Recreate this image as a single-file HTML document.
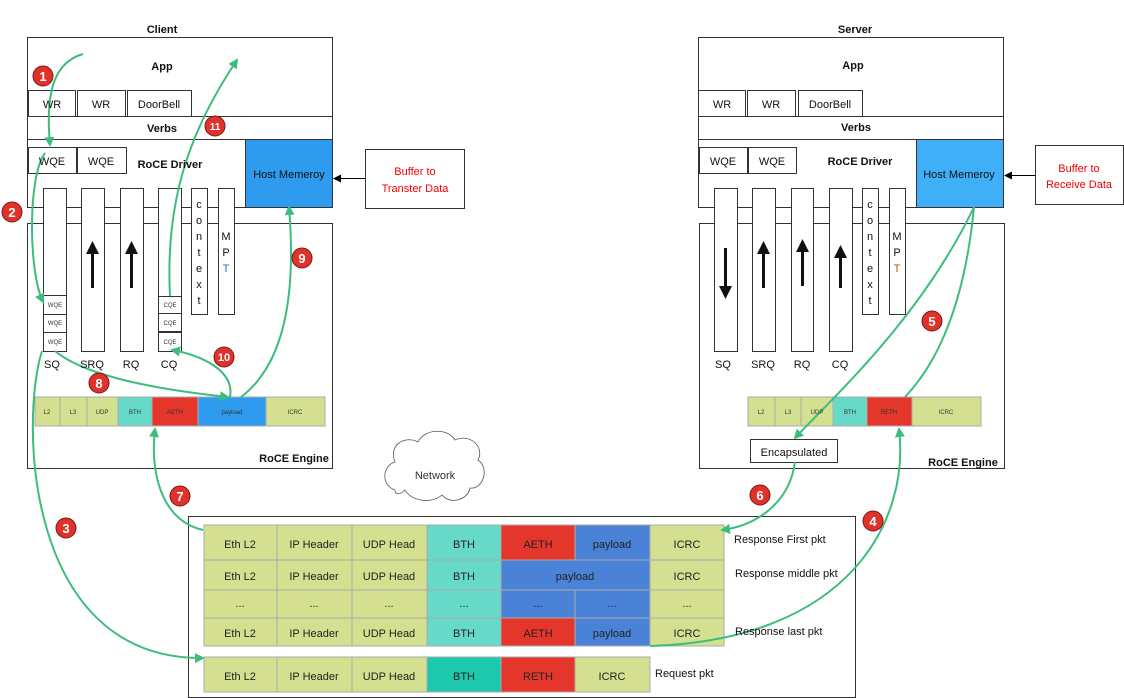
<!DOCTYPE html>
<html><head><meta charset="utf-8"><style>
html,body{margin:0;padding:0;background:#fff;width:1124px;height:698px;overflow:hidden}
svg text{font-family:"Liberation Sans","DejaVu Sans",sans-serif}
</style></head><body>
<svg width="1124" height="698" viewBox="0 0 1124 698" xmlns="http://www.w3.org/2000/svg">
<defs>
<marker id="ga" markerWidth="10" markerHeight="10" refX="8" refY="5" orient="auto" markerUnits="userSpaceOnUse"><path d="M0,0 L10,5 L0,10 z" fill="#3dbd7d"/></marker>
<marker id="ba" markerWidth="8" markerHeight="8" refX="7" refY="4" orient="auto" markerUnits="userSpaceOnUse"><path d="M0,0 L8,4 L0,8 z" fill="#000"/></marker>
</defs>
<g stroke="#333" stroke-width="1" fill="#fff">
<!-- CLIENT -->
<rect x="27.5" y="37.5" width="305" height="170"/>
<line x1="27" y1="116.5" x2="332" y2="116.5"/>
<line x1="27" y1="139.5" x2="332" y2="139.5"/>
<rect x="27.5" y="223.5" width="305" height="245"/>
<rect x="28.5" y="90.5" width="47" height="26"/><rect x="77.5" y="90.5" width="48" height="26"/><rect x="127.5" y="90.5" width="64" height="26"/>
<rect x="28.5" y="147.5" width="48" height="26"/><rect x="77.5" y="147.5" width="49" height="26"/>
<rect x="245.5" y="139.5" width="87" height="68" fill="#2e9bef"/>
<rect x="43.5" y="188.5" width="23" height="163"/><rect x="81.5" y="188.5" width="23" height="163"/><rect x="120.5" y="188.5" width="23" height="163"/><rect x="158.5" y="188.5" width="23" height="163"/>
<rect x="191.5" y="188.5" width="16" height="126"/><rect x="218.5" y="188.5" width="16" height="126"/>
<rect x="43.5" y="295.5" width="23" height="19"/><rect x="43.5" y="314.5" width="23" height="18"/><rect x="43.5" y="332.5" width="23" height="19"/>
<rect x="158.5" y="296.5" width="23" height="17"/><rect x="158.5" y="313.5" width="23" height="18"/><rect x="158.5" y="332.5" width="23" height="19"/>
<rect x="365.5" y="149.5" width="99" height="59"/>
<!-- SERVER -->
<rect x="698.5" y="37.5" width="305" height="170"/>
<line x1="698" y1="116.5" x2="1003" y2="116.5"/>
<line x1="698" y1="139.5" x2="1003" y2="139.5"/>
<rect x="699.5" y="223.5" width="305" height="245"/>
<rect x="698.5" y="90.5" width="47" height="26"/><rect x="747.5" y="90.5" width="48" height="26"/><rect x="798.5" y="90.5" width="64" height="26"/>
<rect x="699.5" y="147.5" width="48" height="26"/><rect x="748.5" y="147.5" width="48" height="26"/>
<rect x="916.5" y="139.5" width="87" height="68" fill="#3fb0f8"/>
<rect x="714.5" y="188.5" width="23" height="163"/><rect x="752.5" y="188.5" width="23" height="163"/><rect x="791.5" y="188.5" width="22" height="163"/><rect x="829.5" y="188.5" width="23" height="163"/>
<rect x="862.5" y="188.5" width="16" height="126"/><rect x="889.5" y="188.5" width="16" height="126"/>
<rect x="1035.5" y="145.5" width="88" height="59"/>
<rect x="750.5" y="439.5" width="87" height="23"/>
<!-- bottom -->
<rect x="188.5" y="516.5" width="667" height="181"/>
</g>
<!-- client packet row -->
<g stroke="#aaa" stroke-width="1">
<rect x="35" y="397" width="25" height="29" fill="#d4e08f"/><rect x="60" y="397" width="27" height="29" fill="#d4e08f"/><rect x="87" y="397" width="31" height="29" fill="#d4e08f"/>
<rect x="118" y="397" width="34" height="29" fill="#66d9c8"/><rect x="152" y="397" width="46" height="29" fill="#e5362c"/><rect x="198" y="397" width="68" height="29" fill="#2e9bef"/><rect x="266" y="397" width="59" height="29" fill="#d4e08f"/>
<rect x="748" y="397" width="27" height="29" fill="#d4e08f"/><rect x="775" y="397" width="26" height="29" fill="#d4e08f"/><rect x="801" y="397" width="32" height="29" fill="#d4e08f"/>
<rect x="833" y="397" width="34" height="29" fill="#66d9c8"/><rect x="867" y="397" width="45" height="29" fill="#e5362c"/><rect x="912" y="397" width="69" height="29" fill="#d4e08f"/>
</g>
<!-- table -->
<g stroke="#aaa" stroke-width="1">
<g fill="#d4e08f">
<rect x="204" y="525" width="73" height="35"/><rect x="277" y="525" width="75" height="35"/><rect x="352" y="525" width="75" height="35"/><rect x="650" y="525" width="74" height="35"/>
<rect x="204" y="560" width="73" height="30"/><rect x="277" y="560" width="75" height="30"/><rect x="352" y="560" width="75" height="30"/><rect x="650" y="560" width="74" height="30"/>
<rect x="204" y="590" width="73" height="28"/><rect x="277" y="590" width="75" height="28"/><rect x="352" y="590" width="75" height="28"/><rect x="650" y="590" width="74" height="28"/>
<rect x="204" y="618" width="73" height="28"/><rect x="277" y="618" width="75" height="28"/><rect x="352" y="618" width="75" height="28"/><rect x="650" y="618" width="74" height="28"/>
<rect x="204" y="657" width="73" height="35"/><rect x="277" y="657" width="75" height="35"/><rect x="352" y="657" width="75" height="35"/><rect x="575" y="657" width="75" height="35"/>
</g>
<g fill="#66d9c8"><rect x="427" y="525" width="74" height="35"/><rect x="427" y="560" width="74" height="30"/><rect x="427" y="590" width="74" height="28"/><rect x="427" y="618" width="74" height="28"/></g>
<rect x="427" y="657" width="74" height="35" fill="#1cc9ae"/>
<g fill="#e5362c"><rect x="501" y="525" width="74" height="35"/><rect x="501" y="618" width="74" height="28"/><rect x="501" y="657" width="74" height="35"/></g>
<g fill="#4a82d8"><rect x="575" y="525" width="75" height="35"/><rect x="501" y="560" width="149" height="30"/><rect x="501" y="590" width="74" height="28"/><rect x="575" y="590" width="75" height="28"/><rect x="575" y="618" width="75" height="28"/></g>
</g>
<!-- arrows in queues -->
<g fill="#111">
<rect x="91" y="252" width="3" height="36"/><path d="M86,254 L92.5,241 L99,254z"/>
<rect x="130" y="252" width="3" height="36"/><path d="M125,254 L131.5,241 L138,254z"/>
<rect x="724" y="248" width="3" height="40"/><path d="M719,286 L725.5,299 L732,286z"/>
<rect x="762" y="252" width="3" height="36"/><path d="M757,254 L763.5,241 L770,254z"/>
<rect x="801" y="250" width="3" height="36"/><path d="M796,252 L802.5,239 L809,252z"/>
<rect x="839" y="256" width="3" height="32"/><path d="M834,258 L840.5,245 L847,258z"/>
</g>
<line x1="365" y1="178.5" x2="334" y2="178.5" stroke="#000" marker-end="url(#ba)"/>
<line x1="1035" y1="175.5" x2="1005" y2="175.5" stroke="#000" marker-end="url(#ba)"/>
<!-- cloud -->
<path d="M395,490 C380,485 383,465 395,462 C388,445 405,435 418,442 C425,428 448,428 455,440 C470,433 485,447 478,460 C490,468 483,490 470,488 C468,500 450,505 442,495 C430,505 410,500 405,490 C400,495 395,495 395,490z" fill="#fff" stroke="#555" stroke-width="0.8"/>
<!-- green curves -->
<g fill="none" stroke="#3dbd7d" stroke-width="2">
<path d="M83,54 C55,62 45,90 50,145" marker-end="url(#ga)"/>
<path d="M45,153 C28,175 28,270 43,302" marker-end="url(#ga)"/>
<path d="M170,296 C165,200 190,130 237,60" marker-end="url(#ga)"/>
<path d="M55,351 C90,380 180,392 228,397" marker-end="url(#ga)"/>
<path d="M230,397 C235,370 200,355 172,350" marker-end="url(#ga)"/>
<path d="M241,397 C290,360 295,280 289,207" marker-end="url(#ga)"/>
<path d="M42,351 C20,420 25,660 203,658" marker-end="url(#ga)"/>
<path d="M203,530 C160,520 150,470 155,429" marker-end="url(#ga)"/>
<path d="M974,207 C920,320 830,400 795,438" marker-end="url(#ga)"/>
<path d="M974,207 C965,300 940,360 905,397"/>
<path d="M795,462 C790,500 760,525 722,530" marker-end="url(#ga)"/>
<path d="M650,646 C850,640 910,520 899,429" marker-end="url(#ga)"/>
</g>
<!-- circles -->
<g fill="#e0322b" stroke="#7a1a16" stroke-width="1">
<circle cx="43" cy="76" r="10"/><circle cx="12" cy="212" r="10"/><circle cx="215" cy="126" r="10"/><circle cx="302" cy="258" r="10"/><circle cx="224" cy="357" r="10"/><circle cx="99" cy="383" r="10"/><circle cx="66" cy="528" r="10"/><circle cx="180" cy="496" r="10"/><circle cx="932" cy="321" r="10"/><circle cx="760" cy="495" r="10"/><circle cx="873" cy="521" r="10"/>
</g>
<g fill="#fff" font-size="13" text-anchor="middle" font-weight="bold">
<text x="43" y="81">1</text><text x="12" y="217">2</text><text x="215" y="130" font-size="10">11</text><text x="302" y="263">9</text><text x="224" y="361" font-size="11">10</text><text x="99" y="388">8</text><text x="66" y="533">3</text><text x="180" y="501">7</text><text x="932" y="326">5</text><text x="760" y="500">6</text><text x="873" y="526">4</text>
</g>
<!-- texts -->
<g font-size="11" fill="#111" text-anchor="middle">
<text x="162" y="33" font-weight="bold">Client</text><text x="855" y="33" font-weight="bold">Server</text>
<text x="162" y="70" font-weight="bold">App</text><text x="853" y="69" font-weight="bold">App</text>
<text x="162" y="132" font-weight="bold">Verbs</text><text x="856" y="131" font-weight="bold">Verbs</text>
<text x="170" y="168" font-weight="bold">RoCE Driver</text><text x="860" y="165" font-weight="bold">RoCE Driver</text>
<text x="294" y="462" font-weight="bold">RoCE Engine</text><text x="963" y="466" font-weight="bold">RoCE Engine</text>
<text x="52" y="108">WR</text><text x="101" y="108">WR</text><text x="159" y="108">DoorBell</text>
<text x="722" y="108">WR</text><text x="771" y="108">WR</text><text x="830" y="108">DoorBell</text>
<text x="52" y="165">WQE</text><text x="101" y="165">WQE</text><text x="723" y="165">WQE</text><text x="772" y="165">WQE</text>
<text x="289" y="178">Host Memeroy</text><text x="959" y="178">Host Memeroy</text>
<text x="415" y="175" fill="#e00">Buffer to</text><text x="415" y="192" fill="#e00">Transter Data</text>
<text x="1079" y="172" fill="#e00">Buffer to</text><text x="1079" y="188" fill="#e00">Receive Data</text>
<text x="52" y="368">SQ</text><text x="92" y="368">SRQ</text><text x="131" y="368">RQ</text><text x="169" y="368">CQ</text>
<text x="723" y="368">SQ</text><text x="763" y="368">SRQ</text><text x="802" y="368">RQ</text><text x="840" y="368">CQ</text>
<text x="794" y="456">Encapsulated</text>
<text x="435" y="479" fill="#333">Network</text>
</g>
<g font-size="11" fill="#111" text-anchor="middle">
<text x="199" y="208">c</text><text x="199" y="224">o</text><text x="199" y="240">n</text><text x="199" y="256">t</text><text x="199" y="272">e</text><text x="199" y="288">x</text><text x="199" y="304">t</text>
<text x="226" y="240">M</text><text x="226" y="256">P</text><text x="226" y="272" fill="#2a6fc8">T</text>
<text x="870" y="208">c</text><text x="870" y="224">o</text><text x="870" y="240">n</text><text x="870" y="256">t</text><text x="870" y="272">e</text><text x="870" y="288">x</text><text x="870" y="304">t</text>
<text x="897" y="240">M</text><text x="897" y="256">P</text><text x="897" y="272" fill="#c05000">T</text>
</g>
<g font-size="6" fill="#333" text-anchor="middle">
<text x="55" y="307">WQE</text><text x="55" y="325">WQE</text><text x="55" y="344">WQE</text>
<text x="170" y="307">CQE</text><text x="170" y="325">CQE</text><text x="170" y="344">CQE</text>
<text x="47" y="414">L2</text><text x="73" y="414">L3</text><text x="102" y="414">UDP</text><text x="135" y="414">BTH</text><text x="175" y="414">AETH</text><text x="232" y="414">payload</text><text x="295" y="414">ICRC</text>
<text x="761" y="414">L2</text><text x="788" y="414">L3</text><text x="817" y="414">UDP</text><text x="850" y="414">BTH</text><text x="889" y="414">RETH</text><text x="946" y="414">ICRC</text>
</g>
<g font-size="11" fill="#222" text-anchor="middle">
<text x="240" y="548">Eth L2</text><text x="314" y="548">IP Header</text><text x="389" y="548">UDP Head</text><text x="464" y="548">BTH</text><text x="538" y="548">AETH</text><text x="612" y="548">payload</text><text x="687" y="548">ICRC</text>
<text x="240" y="580">Eth L2</text><text x="314" y="580">IP Header</text><text x="389" y="580">UDP Head</text><text x="464" y="580">BTH</text><text x="575" y="580">payload</text><text x="687" y="580">ICRC</text>
<text x="240" y="607">...</text><text x="314" y="607">...</text><text x="389" y="607">...</text><text x="464" y="607">...</text><text x="538" y="607">...</text><text x="612" y="607">...</text><text x="687" y="607">...</text>
<text x="240" y="637">Eth L2</text><text x="314" y="637">IP Header</text><text x="389" y="637">UDP Head</text><text x="464" y="637">BTH</text><text x="538" y="637">AETH</text><text x="612" y="637">payload</text><text x="687" y="637">ICRC</text>
<text x="240" y="680">Eth L2</text><text x="314" y="680">IP Header</text><text x="389" y="680">UDP Head</text><text x="464" y="680">BTH</text><text x="538" y="680">RETH</text><text x="612" y="680">ICRC</text>
</g>
<g font-size="11" fill="#111">
<text x="734" y="543">Response First  pkt</text><text x="735" y="577">Response middle  pkt</text><text x="735" y="635">Response last  pkt</text><text x="655" y="677">Request pkt</text>
</g>
</svg>
</body></html>
